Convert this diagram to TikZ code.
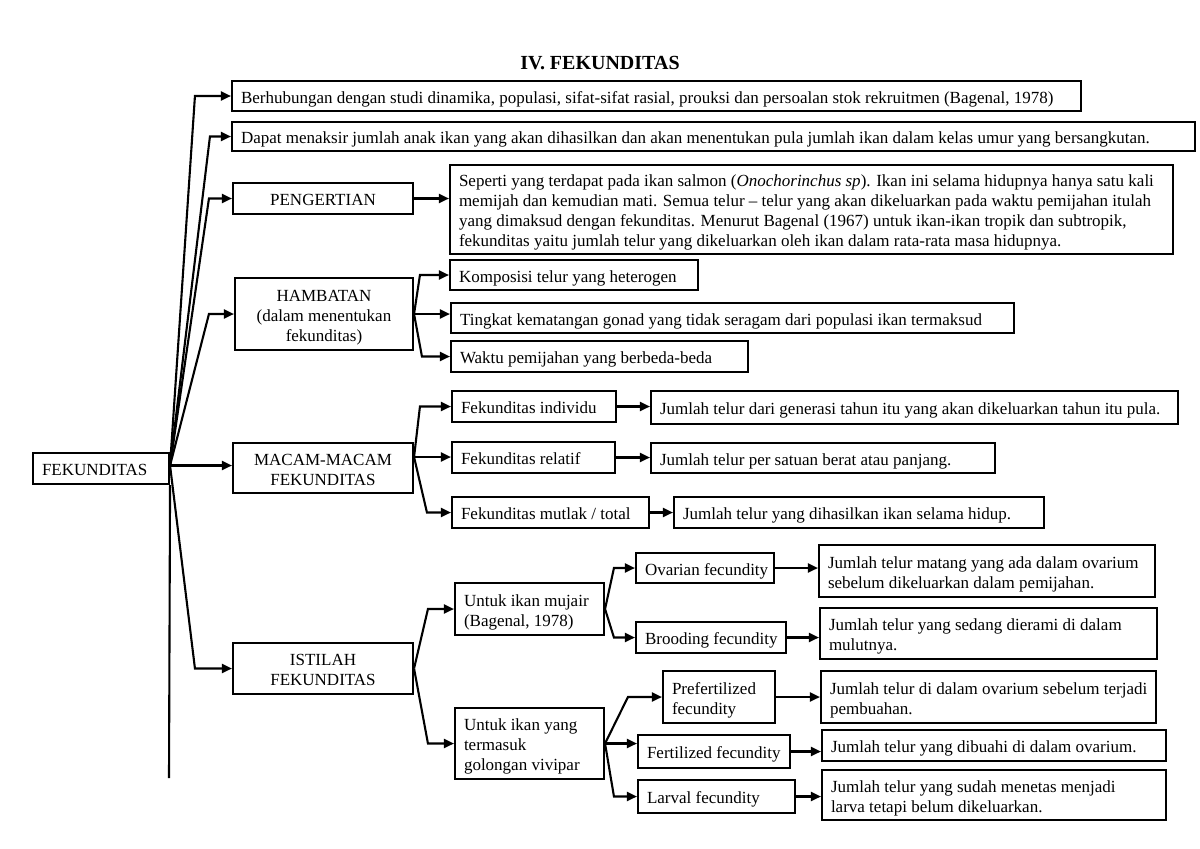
\documentclass[tikz,border=0pt]{standalone}
\usepackage{fontspec}
\setmainfont{Liberation Serif}
\usetikzlibrary{arrows.meta}
\tikzset{
  box/.style={draw, line width=2.1pt, inner xsep=9pt, inner ysep=1pt, font=\fontsize{17}{20}\selectfont},
  con/.style={line width=2.1pt, -{Triangle[length=10pt,width=9pt]}},
  plain/.style={line width=2.1pt},
  titletext/.style={font=\bfseries\fontsize{20}{23}\selectfont}
}
\newcommand\drawbox[7]{%
  \pgfmathsetmacro\bxw{#4-#2}\pgfmathsetmacro\bxh{#5-#3}%
  \pgfmathsetmacro\bxt{#4-#2-18}%
  \pgfmathsetmacro\bxx{(#2+#4)/2}\pgfmathsetmacro\bxy{(#3+#5)/2}%
  \node[box, minimum width=\bxw pt, minimum height=\bxh pt] (#1) at (\bxx,\bxy)
    {\makebox[\bxt pt][#6]{\raisebox{-3pt}[\height][\depth]{\begin{tabular}{@{}#6@{}}#7\end{tabular}}}};}
\begin{document}
\begin{tikzpicture}[x=1pt,y=-1pt]
\useasboundingbox (0,0) rectangle (1200,849);
\node[titletext] (title) at (600,63) {IV. FEKUNDITAS};

\drawbox{root}{33}{453}{169}{484}{l}{FEKUNDITAS}
\drawbox{b1}{232}{81}{1081}{111}{l}{Berhubungan dengan studi dinamika, populasi, sifat-sifat rasial, prouksi dan persoalan stok rekruitmen (Bagenal, 1978)}
\drawbox{b2}{232}{122}{1195}{151}{l}{Dapat menaksir jumlah anak ikan yang akan dihasilkan dan akan menentukan pula jumlah ikan dalam kelas umur yang bersangkutan.}
\drawbox{peng}{233}{183}{413}{214}{c}{PENGERTIAN}
\drawbox{sep}{450}{165}{1173}{254}{l}{Seperti yang terdapat pada ikan salmon (\textit{Onochorinchus sp}). Ikan ini selama hidupnya hanya satu kali\\memijah dan kemudian mati. Semua telur -- telur yang akan dikeluarkan pada waktu pemijahan itulah\\yang dimaksud dengan fekunditas. Menurut Bagenal (1967) untuk ikan-ikan tropik dan subtropik,\\fekunditas yaitu jumlah telur yang dikeluarkan oleh ikan dalam rata-rata masa hidupnya.}
\drawbox{hamb}{235}{278}{413}{350}{c}{HAMBATAN\\(dalam menentukan\\fekunditas)}
\drawbox{komp}{450}{260}{698}{290}{l}{Komposisi telur yang heterogen}
\drawbox{ting}{451}{303}{1014}{333}{l}{Tingkat kematangan gonad yang tidak seragam dari populasi ikan termaksud}
\drawbox{wakt}{451}{341}{748}{372}{l}{Waktu pemijahan yang berbeda-beda}
\drawbox{macam}{233}{443}{413}{493}{c}{MACAM-MACAM\\FEKUNDITAS}
\drawbox{find}{452}{391}{616}{422}{l}{Fekunditas individu}
\drawbox{jind}{651}{391}{1178}{424}{l}{Jumlah telur dari generasi tahun itu yang akan dikeluarkan tahun itu pula.}
\drawbox{frel}{452}{442}{615}{473}{l}{Fekunditas relatif}
\drawbox{jrel}{651}{443}{995}{473}{l}{Jumlah telur per satuan berat atau panjang.}
\drawbox{fmut}{452}{497}{649}{528}{l}{Fekunditas mutlak / total}
\drawbox{jmut}{674}{497}{1044}{528}{l}{Jumlah telur yang dihasilkan ikan selama hidup.}
\drawbox{ist}{233}{643}{413}{694}{c}{ISTILAH\\FEKUNDITAS}
\drawbox{muj}{455}{583}{604}{635}{l}{Untuk ikan mujair\\(Bagenal, 1978)}
\drawbox{viv}{455}{708}{604}{779}{l}{Untuk ikan yang\\termasuk\\golongan vivipar}
\drawbox{ova}{636}{553}{774}{583}{l}{Ovarian fecundity}
\drawbox{jova}{819}{545}{1155}{597}{l}{Jumlah telur matang yang ada dalam ovarium\\sebelum dikeluarkan dalam pemijahan.}
\drawbox{brd}{636}{622}{786}{653}{l}{Brooding fecundity}
\drawbox{jbrd}{820}{608}{1157}{659}{l}{Jumlah telur yang sedang dierami di dalam\\mulutnya.}
\drawbox{pre}{663}{671}{775}{723}{l}{Prefertilized\\fecundity}
\drawbox{jpre}{821}{671}{1156}{723}{l}{Jumlah telur di dalam ovarium sebelum terjadi\\pembuahan.}
\drawbox{fer}{638}{735}{790}{768}{l}{Fertilized fecundity}
\drawbox{jfer}{822}{730}{1166}{761}{l}{Jumlah telur yang dibuahi di dalam ovarium.}
\drawbox{lar}{638}{780}{795}{813}{l}{Larval fecundity}
\drawbox{jlar}{822}{770}{1166}{820}{l}{Jumlah telur yang sudah menetas menjadi\\larva tetapi belum dikeluarkan.}

% level 1 connectors
\coordinate (r0) at ([yshift=3pt]root.east);
\coordinate (trunkend) at (169,778);
\draw[plain] (root.south east) -- (trunkend);
\draw[con] (r0) -- ([xshift=-36pt]b1.west) -- (b1.west);
\draw[con] (r0) -- ([xshift=-21pt]b2.west) -- (b2.west);
\draw[con] (r0) -- ([xshift=-23pt]peng.west) -- (peng.west);
\draw[con] (r0) -- ([xshift=-25pt]hamb.west) -- (hamb.west);
\draw[con] (r0) -- (r0 -| macam.west);
\draw[con] (r0) -- ([xshift=-37pt]ist.west) -- (ist.west);

% level 2
\draw[con] (peng.east) -- (peng.east -| sep.west);
\draw[con] (hamb.east) -- ([xshift=-29pt]komp.west) -- (komp.west);
\draw[con] (hamb.east) -- (hamb.east -| ting.west);
\draw[con] (hamb.east) -- ([xshift=-28pt]wakt.west) -- (wakt.west);
\coordinate (ms) at ([yshift=11pt]macam.east);
\draw[con] (ms) -- ([xshift=-31pt]find.west) -- (find.west);
\draw[con] (ms) -- (ms -| frel.west);
\draw[con] (ms) -- ([xshift=-24pt]fmut.west) -- (fmut.west);
\draw[con] (ist.east) -- ([xshift=-26pt]muj.west) -- (muj.west);
\draw[con] (ist.east) -- ([xshift=-26pt]viv.west) -- (viv.west);

% level 3
\draw[con] (find.east) -- (find.east -| jind.west);
\draw[con] (frel.east) -- (frel.east -| jrel.west);
\draw[con] (fmut.east) -- (fmut.east -| jmut.west);
\draw[con] (muj.east) -- ([xshift=-21pt]ova.west) -- (ova.west);
\draw[con] (muj.east) -- ([xshift=-21pt]brd.west) -- (brd.west);
\draw[con] (viv.east) -- ([xshift=-34pt]pre.west) -- (pre.west);
\draw[con] (viv.east) -- (viv.east -| fer.west);
\draw[con] (viv.east) -- ([xshift=-23pt]lar.west) -- (lar.west);

% level 4
\draw[con] (ova.east) -- (ova.east -| jova.west);
\draw[con] (brd.east) -- (brd.east -| jbrd.west);
\draw[con] (pre.east) -- (pre.east -| jpre.west);
\draw[con] (fer.east) -- (fer.east -| jfer.west);
\draw[con] (lar.east) -- (lar.east -| jlar.west);
\end{tikzpicture}
\end{document}
